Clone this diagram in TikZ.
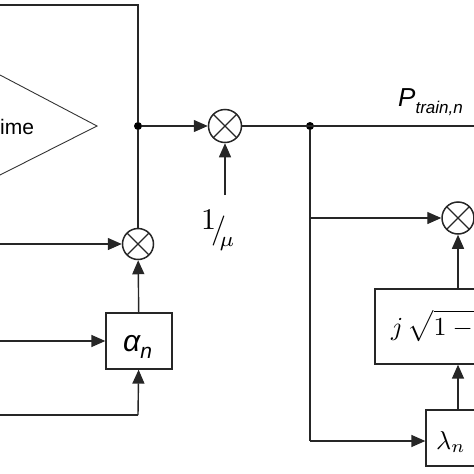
\documentclass[tikz,border=0pt]{standalone}
\usepackage{fontspec}
\setmainfont{Liberation Sans}
\usetikzlibrary{arrows.meta}
\begin{document}
\begin{tikzpicture}[x=1pt,y=-1pt,
  wire/.style={line width=1.4pt,draw=black!85},
  arr/.style={wire,-{Triangle[length=14pt,width=12pt]}},
  mult/.style={circle,draw=black!85,line width=1.5pt,minimum size=#1,inner sep=0pt,
    path picture={\draw[line width=1.3pt,black!85]
      (path picture bounding box.north west)--(path picture bounding box.south east)
      (path picture bounding box.north east)--(path picture bounding box.south west);}},
  mult/.default=31pt,
  blk/.style={draw=black!85,line width=1.3pt,inner sep=0pt},
  dot/.style={circle,fill=black,inner sep=0pt,minimum size=8pt}
]
\useasboundingbox (0,0) rectangle (474,474);
\clip (0,0) rectangle (474,474);

% triangle block (cut at left edge)
\draw[line width=0.9pt,black!80] (0,75) -- (97,126) -- (0,175);
\node[anchor=west,inner sep=0pt,font=\fontsize{21}{25}\selectfont] (ime) at (0,127) {ime};

% multipliers
\node[mult=33pt] (m1) at (225,126) {};
\node[mult=31pt] (m2) at (138,244) {};
\node[mult=32pt] (m3) at (458,218) {};

% alpha block
\node[blk,minimum width=66pt,minimum height=56pt] (alpha) at (139,341) {};
\node[inner sep=0pt,anchor=base west] (altxt) at (123,351)
  {\fontsize{30}{34}\selectfont\itshape α\raisebox{-0.25em}{\fontsize{21}{24}\selectfont n}};

% j sqrt block and lambda block (cut at right edge)
\node[blk,minimum width=200pt,minimum height=75pt] (jbox) at (475,326.5) {};
\node[anchor=west,inner sep=0pt] (jtxt) at (391,326)
  {\scalebox{2.6}{$j\,\sqrt{1-\phantom{\lambda_n^2\lambda_n^2}}$}};
\node[blk,minimum width=100pt,minimum height=56pt] (lam) at (476,438) {};
\node[anchor=west,inner sep=0pt] (lamtxt) at (436,442) {\scalebox{2.6}{$\lambda_n$}};

% junctions and free ends
\node[dot] (j1) at (138,126) {};
\node[dot] (j2) at (310,126) {};
\coordinate (tl) at (0,5);
\coordinate (tr) at (138,5);
\coordinate (inm2) at (0,244);
\coordinate (inal) at (0,341);
\coordinate (bl) at (0,415);
\coordinate (br) at (138,415);
\coordinate (mu) at (225,195);
\coordinate (outP) at (474,126);
\coordinate (b1) at (310,218);
\coordinate (b2) at (310,441);

% connections
\draw[wire] (tl) -- (tr) -- (j1);
\draw[wire] (j1) -- (m2);
\draw[arr] (j1) -- (m1);
\draw[arr] (mu) -- (m1);
\draw[wire] (m1) -- (outP);
\draw[arr] (inm2) -- (m2);
\draw[arr] (inal) -- (alpha);
\draw[arr] (alpha) -- (m2);
\draw[wire] (bl) -- (br);
\draw[arr] (br) -- (alpha);
\draw[wire] (j2) -- (b2);
\draw[arr] (b1) -- (m3);
\draw[arr] (b2) -- (lam.west |- b2);
\draw[arr] (lam.north -| m3) -- (jbox.south -| m3);
\draw[arr] (jbox.north -| m3) -- (m3);

% labels
\node[inner sep=0pt,anchor=north west] (mulab) at (201,210)
  {\scalebox{3.0}{$\raisebox{0.3em}{$1$}\mkern-3mu/\mkern-4mu\raisebox{-0.25em}{$\scriptstyle\mu$}$}};
\node[inner sep=0pt,anchor=base west] (plab) at (398,106)
  {\fontsize{26}{30}\selectfont\itshape P\raisebox{-0.3em}{\fontsize{17}{20}\selectfont train,n}};
\end{tikzpicture}
\end{document}
